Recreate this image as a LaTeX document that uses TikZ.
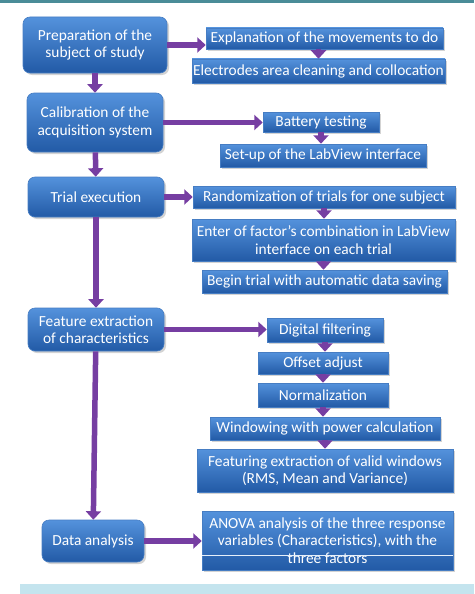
\documentclass[tikz,border=0pt]{standalone}
\usepackage{fontspec}
\setmainfont{Carlito}
\usepackage{tikz}
\usetikzlibrary{arrows.meta,shadows}
\usepackage{xcolor}

\definecolor{boxtop}{RGB}{84,146,220}
\definecolor{boxbot}{RGB}{34,90,166}
\definecolor{boxline}{RGB}{70,125,195}
\definecolor{flowpurple}{RGB}{118,62,162}
\definecolor{rulecol}{RGB}{74,140,152}
\definecolor{bandcol}{RGB}{196,228,238}

\tikzset{
  stage/.style={draw=boxline,line width=0.6pt,rounded corners=7pt,top color=boxtop,bottom color=boxbot,
    text=white,align=center,inner sep=2pt,
    drop shadow={shadow xshift=2pt,shadow yshift=-2pt,opacity=0.35}},
  task/.style={draw=boxline,line width=0.5pt,top color=boxtop,bottom color=boxbot,
    text=white,align=center,inner sep=1pt,
    drop shadow={shadow xshift=2pt,shadow yshift=-2pt,opacity=0.35}},
  flow/.style={draw=flowpurple,line width=5.5pt,-{Triangle[width=15pt,length=8.5pt]}},
}

\begin{document}
\begin{tikzpicture}[x=1pt,y=-1pt,font=\fontsize{15.4}{17.5}\selectfont]
\useasboundingbox (0,0) rectangle (474,594);
\fill[rulecol] (0,0) rectangle (474,3);
\fill[bandcol] (20,584) rectangle (474,594);

% main stages
\node[stage,minimum width=144pt,minimum height=56pt] (prep) at (95,45) {Preparation of the\\subject of study};
\node[stage,minimum width=136pt,minimum height=59pt] (calib) at (95,122.5) {Calibration of the\\acquisition system};
\node[stage,minimum width=136pt,minimum height=40pt] (trial) at (96,197) {Trial execution};
\node[stage,minimum width=136pt,minimum height=43pt] (feat) at (96,329.5) {Feature extraction\\of characteristics};
\node[stage,minimum width=102pt,minimum height=42pt] (data) at (93,541) {Data analysis};

% tasks
\node[task,minimum width=237pt,minimum height=21pt] (expl) at (324.5,38.5) {Explanation of the movements to do};
\node[task,minimum width=253pt,minimum height=24pt] (clean) at (318.5,71) {Electrodes area cleaning and collocation};
\node[task,minimum width=116pt,minimum height=20pt] (batt) at (321,122) {Battery testing};
\node[task,minimum width=206pt,minimum height=23pt] (setup) at (323,155.5) {Set-up of the LabView interface};
\node[task,minimum width=262pt,minimum height=22pt] (rand) at (324,197) {Randomization of trials for one subject};
\node[task,minimum width=263pt,minimum height=42pt] (enter) at (323.5,240) {Enter of factor’s combination in LabView\\interface on each trial};
\node[task,minimum width=245pt,minimum height=23pt] (begin) at (324.5,281.5) {Begin trial with automatic data saving};
\node[task,minimum width=116pt,minimum height=24pt] (digi) at (325,330) {Digital filtering};
\node[task,minimum width=130pt,minimum height=22pt] (offs) at (323,363) {Offset adjust};
\node[task,minimum width=130pt,minimum height=24pt] (norm) at (323,395) {Normalization};
\node[task,minimum width=230pt,minimum height=23pt] (wind) at (325,428.5) {Windowing with power calculation};
\node[task,minimum width=256pt,minimum height=43pt] (featx) at (325,470.5) {Featuring extraction of valid windows\\(RMS, Mean and Variance)};
\node[task,minimum width=251pt,minimum height=59pt] (anova) at (327.5,540.5) {ANOVA analysis of the three response\\variables (Characteristics), with the\\three factors};
\draw[white!85!boxtop,line width=0.7pt] (anova.west |- 0,555) -- (anova.east |- 0,555);

% main flow
\draw[flow] (prep) -- (calib);
\draw[flow] (calib) -- (trial);
\draw[flow] (trial) -- (feat);
\draw[flow] (feat) -- (data);

% out to tasks
\draw[flow] (prep.east) -- (prep.east -| expl.west);
\draw[flow] (calib.east) -- (calib.east -| batt.west);
\draw[flow] (trial.east) -- (trial.east -| rand.west);
\draw[flow] (feat.east) -- (feat.east -| digi.west);
\draw[flow] (data.east) -- (data.east -| anova.west);

% between tasks
\draw[flow] (clean.north |- expl.south) -- (clean.north);
\draw[flow] (batt.south) -- (batt.south |- setup.north);
\draw[flow] (rand.south) -- (rand.south |- enter.north);
\draw[flow] (enter.south) -- (enter.south |- begin.north);
\draw[flow] (digi.south) -- (digi.south |- offs.north);
\draw[flow] (offs.south) -- (offs.south |- norm.north);
\draw[flow] (norm.south) -- (norm.south |- wind.north);
\draw[flow] (wind.south) -- (wind.south |- featx.north);
\end{tikzpicture}
\end{document}
